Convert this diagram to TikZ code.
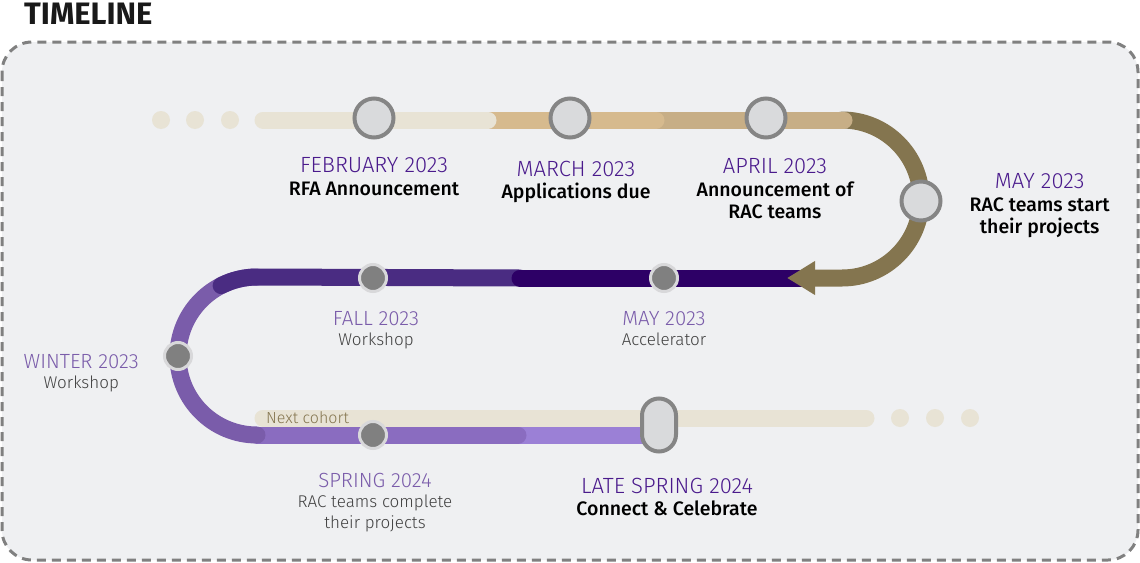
\documentclass[tikz,border=0pt]{standalone}
\usepackage{fontspec}
\setmainfont{Fira Sans}
\newfontfamily\lightfont{Fira Sans Light}
\newfontfamily\medfont{Fira Sans Medium}
\usepackage{tikz}
\usetikzlibrary{positioning,arrows.meta,calc}
\definecolor{bgfill}{HTML}{EFF0F2}
\definecolor{framegray}{HTML}{808080}
\definecolor{beige}{HTML}{E8E3D5}
\definecolor{tanlight}{HTML}{D6BA8E}
\definecolor{tandark}{HTML}{C7AE86}
\definecolor{olive}{HTML}{84754F}
\definecolor{dotfill}{HTML}{D9DADC}
\definecolor{dotring}{HTML}{858585}
\definecolor{deeppurple}{HTML}{2D0066}
\definecolor{midpurple}{HTML}{4A2C82}
\definecolor{arcpurple}{HTML}{7A5CAA}
\definecolor{lowpurple}{HTML}{8A6CC0}
\definecolor{lightpurple}{HTML}{9B80D6}
\definecolor{dotgray}{HTML}{808080}
\definecolor{dotrim}{HTML}{D8D8DA}
\definecolor{monthdark}{HTML}{4A1A8C}
\definecolor{monthlight}{HTML}{7A5CAA}
\definecolor{textgray}{HTML}{404040}
\tikzset{
  frame/.style    = {draw=framegray, fill=bgfill, line width=3pt, dash pattern=on 9pt off 6pt, rounded corners=30pt},
  heading/.style  = {font=\bfseries\fontsize{31}{33}\selectfont, text=black!90, inner sep=0pt},
  track/.style    = {line width=17pt, line cap=round},
  ellip/.style    = {circle, fill=beige, minimum size=18pt, inner sep=0pt},
  bigdot/.style   = {circle, minimum size=39pt, inner sep=0pt, fill=dotfill, draw=dotring, line width=4pt},
  smalldot/.style = {circle, minimum size=27pt, inner sep=0pt, fill=dotgray, draw=dotrim, line width=3pt},
  pill/.style     = {rectangle, rounded corners=17pt, minimum width=34pt, minimum height=53pt, inner sep=0pt, fill=dotfill, draw=dotring, line width=4pt},
  toplbl/.style   = {align=center, inner sep=0pt, font=\medfont\fontsize{19.5}{22.5}\selectfont, text=black},
  lowlbl/.style   = {align=center, inner sep=0pt, font=\lightfont\fontsize{17}{20.5}\selectfont, text=textgray},
}
\newcommand{\monD}[1]{{\lightfont\fontsize{22}{22}\selectfont\color{monthdark}#1}}
\newcommand{\monL}[1]{{\lightfont\fontsize{20.5}{20.5}\selectfont\color{monthlight}#1}}

\begin{document}
\begin{tikzpicture}[x=1pt,y=-1pt]
  \useasboundingbox (0,0) rectangle (1140,562);
  \draw[frame] (2,42) rectangle (1138,560);
  \node[heading, anchor=west] (title) at (24,14) {TIMELINE};

  % track points
  \coordinate (r1start) at (263,120);
  \coordinate (r1mid)   at (488,120);
  \coordinate (tanAs)   at (480,120);
  \coordinate (tanAe)   at (656,120);
  \coordinate (tanBs)   at (650,120);
  \coordinate (turnR)   at (842,120);
  \coordinate (tip)     at (787,278);
  \coordinate (deepS)   at (520,278);
  \coordinate (deepE)   at (805,278);
  \coordinate (midS)    at ($(257,356)+(-117:79)$);
  \coordinate (turnL)   at (257,277);
  \coordinate (r3start) at (257,435);
  \coordinate (lowE)    at (518,435);
  \coordinate (liteS)   at (510,435);
  \coordinate (liteE)   at (645,435);
  \coordinate (nextS)   at (263,418);
  \coordinate (nextE)   at (866,418);

  \foreach \x in {161,195,230} \node[ellip] at (\x,120) {};
  \foreach \x in {900,935,970} \node[ellip] at (\x,418) {};

  \draw[track, beige] (nextS) -- (nextE);
  \draw[track, lightpurple] (liteS) -- (liteE);
  \draw[track, lowpurple] (r3start) -- (lowE);
  \draw[track, arcpurple] (turnL) arc[start angle=-90, end angle=-270, radius=79];
  \draw[track, midpurple] (midS) arc[start angle=-117, end angle=-90, radius=79] -- (deepS);
  \draw[track, deeppurple] (deepS) -- (deepE);
  \draw[track, olive, -{Triangle[length=28pt,width=32pt]}] (turnR) arc[start angle=-90, end angle=90, radius=79] -- (tip);
  \draw[track, tandark] (tanBs) -- (turnR) -- ++(2,0);
  \draw[track, tanlight] (tanAs) -- (tanAe);
  \draw[track, beige] (r1start) -- (r1mid);

  \node[font=\lightfont\fontsize{16}{18}\selectfont, text=olive, anchor=west, inner sep=0pt] (cohort) at (266,418) {Next cohort};

  % milestones
  \node[bigdot] (feb) at (374,118) {};
  \node[bigdot] (mar) at (570,118) {};
  \node[bigdot] (apr) at (766,118) {};
  \node[bigdot] (may) at (921,201) {};
  \node[smalldot] (fall) at (373,278) {};
  \node[smalldot] (acc) at (664,278) {};
  \node[smalldot] (win) at (178,356) {};
  \node[smalldot] (spr) at (373,435) {};
  \node[pill] (late) at (659,425) {};

  % labels
  \node[toplbl, below=18pt of feb] (febl) {\monD{FEBRUARY 2023}\\RFA Announcement};
  \node[toplbl, below=21pt of mar, xshift=6pt] (marl) {\monD{MARCH 2023}\\Applications due};
  \node[toplbl, below=19pt of apr, xshift=9pt] (aprl) {\monD{APRIL 2023}\\Announcement of\\RAC teams};
  \node[toplbl, right=27pt of may, yshift=-5pt] (mayl) {\monD{MAY 2023}\\RAC teams start\\their projects};
  \node[lowlbl, below=18pt of fall, xshift=3pt] (falll) {\monL{FALL 2023}\\Workshop};
  \node[lowlbl, below=18pt of acc] (accl) {\monL{MAY 2023}\\Accelerator};
  \node[lowlbl, left=24pt of win, yshift=-17pt] (winl) {\monL{WINTER 2023}\\Workshop};
  \node[lowlbl, below=23pt of spr, xshift=2pt] (sprl) {\monL{SPRING 2024}\\RAC teams complete\\their projects};
  \node[toplbl, below=24pt of late, xshift=8pt] (latel) {\monD{LATE SPRING 2024}\\Connect \& Celebrate};
\end{tikzpicture}
\end{document}
